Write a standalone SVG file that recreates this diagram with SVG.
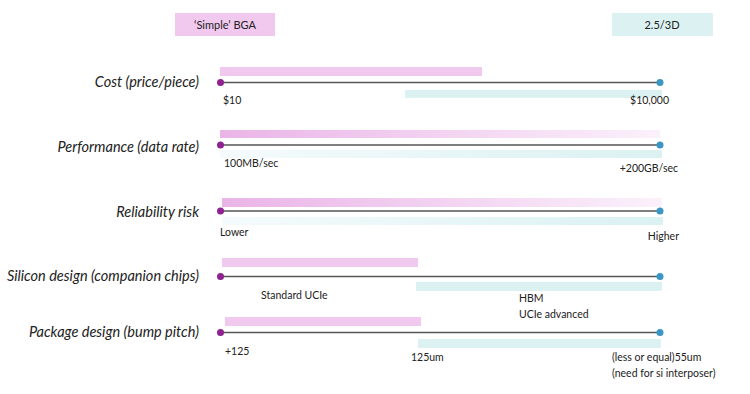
<svg xmlns="http://www.w3.org/2000/svg" width="750" height="394" viewBox="0 0 750 394">
<defs>
<linearGradient id="gp" x1="0" x2="1" y1="0" y2="0"><stop offset="0" stop-color="#EAB4E7"/><stop offset="1" stop-color="#FBF1FB"/></linearGradient>
<linearGradient id="gt" x1="0" x2="1" y1="0" y2="0"><stop offset="0" stop-color="#F5FBFC"/><stop offset="1" stop-color="#DBF1F2"/></linearGradient>
</defs>
<style>
.pink{fill:#F1C9EE}
.teal{fill:#DBF1F2}
.axis{stroke:#555;stroke-width:1.5}
.d0{fill:#8E2290}
.d1{fill:#3A96C3}
.lbl{font-family:Lato,"Open Sans",sans-serif;font-style:italic;font-size:14.5px;fill:#222;text-anchor:end}
.t{font-family:Lato,"Open Sans",sans-serif;font-size:10.5px;fill:#222}
.h{font-family:Lato,"Open Sans",sans-serif;font-size:11px;fill:#222;text-anchor:middle}
</style>
<rect width="750" height="394" fill="#fff"/>
<g id="header-bga"><rect class="pink" x="175" y="13" width="100" height="23"/><text class="h" x="225" y="29">‘Simple’ BGA</text></g>
<g id="header-3d"><rect class="teal" x="612" y="13" width="101" height="23"/><text class="h" x="662" y="29">2.5/3D</text></g>

<g id="row-cost">
<text class="lbl" x="199" y="87">Cost (price/piece)</text>
<rect class="pink" x="220" y="67" width="262" height="9"/>
<rect class="teal" x="405" y="90" width="257" height="8"/>
<text class="t" x="223" y="104">$10</text>
<text class="t" x="669" y="104" text-anchor="end">$10,000</text>
</g>
<g id="row-perf">
<text class="lbl" x="199" y="152">Performance (data rate)</text>
<rect fill="url(#gp)" x="220" y="130" width="440" height="8"/>
<rect fill="url(#gt)" x="220" y="150" width="442" height="8"/>
<text class="t" x="224" y="167">100MB/sec</text>
<text class="t" x="678" y="172" text-anchor="end">+200GB/sec</text>
</g>
<g id="row-rel">
<text class="lbl" x="199" y="217">Reliability risk</text>
<rect fill="url(#gp)" x="222" y="198" width="440" height="9"/>
<rect fill="url(#gt)" x="222" y="217" width="441" height="8"/>
<text class="t" x="220" y="236">Lower</text>
<text class="t" x="679" y="240" text-anchor="end">Higher</text>
</g>
<g id="row-si">
<text class="lbl" x="199" y="281">Silicon design (companion chips)</text>
<rect class="pink" x="222" y="258" width="196" height="9"/>
<rect class="teal" x="416" y="282" width="246" height="9"/>
<text class="t" x="261" y="299">Standard UCIe</text>
<text class="t" x="519" y="302">HBM</text>
<text class="t" x="519" y="318">UCIe advanced</text>
</g>
<g id="row-pkg">
<text class="lbl" x="199" y="337">Package design (bump pitch)</text>
<rect class="pink" x="225" y="317" width="196" height="9"/>
<rect class="teal" x="418" y="339" width="243" height="9"/>
<text class="t" x="225" y="355">+125</text>
<text class="t" x="411" y="361">125um</text>
<text class="t" x="612" y="361">(less or equal)55um</text>
<text class="t" x="612" y="377">(need for si interposer)</text>
</g>

<g id="connectors">
<line class="axis" x1="220" y1="82.5" x2="660" y2="82.5"/>
<line class="axis" x1="220" y1="145" x2="660" y2="145"/>
<line class="axis" x1="220" y1="211" x2="660" y2="211"/>
<line class="axis" x1="220" y1="276.5" x2="660" y2="276.5"/>
<line class="axis" x1="220" y1="332.5" x2="660" y2="332.5"/>
<circle class="d0" cx="220.5" cy="82.5" r="3.5"/><circle class="d1" cx="660" cy="82.5" r="3.5"/>
<circle class="d0" cx="220.5" cy="145" r="3.5"/><circle class="d1" cx="660" cy="145" r="3.5"/>
<circle class="d0" cx="220.5" cy="211" r="3.5"/><circle class="d1" cx="660" cy="211" r="3.5"/>
<circle class="d0" cx="220.5" cy="276.5" r="3.5"/><circle class="d1" cx="660" cy="276.5" r="3.5"/>
<circle class="d0" cx="220.5" cy="332.5" r="3.5"/><circle class="d1" cx="660" cy="332.5" r="3.5"/>
</g>
</svg>
